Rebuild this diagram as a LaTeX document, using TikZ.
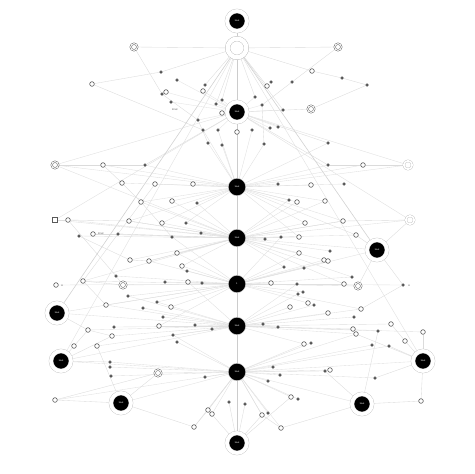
\documentclass[tikz,border=0pt]{standalone}
\pgfdeclarelayer{paper}
\pgfdeclarelayer{bg}
\pgfsetlayers{paper,bg,main}
\begin{document}
\begin{tikzpicture}[x=0.03cm,y=-0.03cm,
  hubr/.style={circle,fill=black,draw=gray!45,line width=0.35pt,double=white,double distance=0.11cm,minimum size=0.6cm,inner sep=0pt,text=white,font=\fontsize{2.5}{3}\selectfont},
  hub/.style={circle,fill=black,draw=gray!30,line width=0.3pt,minimum size=0.52cm,inner sep=0pt,text=white,font=\fontsize{2.5}{3}\selectfont},
  wring/.style={circle,fill=white,draw=gray!55,line width=0.35pt,double=white,double distance=0.13cm,minimum size=0.56cm,inner sep=0pt},
  wsm/.style={circle,fill=white,draw=gray!55,line width=0.3pt,double=white,double distance=0.05cm,minimum size=0.25cm,inner sep=0pt},
  sc/.style={circle,fill=white,draw=black!65,line width=0.5pt,minimum size=0.14cm,inner sep=0pt},
  sr/.style={circle,fill=white,draw=black!65,line width=0.4pt,double=white,double distance=0.03cm,minimum size=0.2cm,inner sep=0pt},
  sd/.style={circle,fill=black!65,draw=black!70,line width=0.2pt,minimum size=0.09cm,inner sep=0pt},
  sq/.style={rectangle,fill=white,draw=black!65,line width=0.45pt,minimum size=0.16cm,inner sep=0pt},
  lbl/.style={inner sep=0pt,text=black!65,font=\fontsize{3}{3.5}\selectfont},
  ln/.style={draw=gray!28,line width=0.3pt},
  lnb/.style={draw=gray!40,line width=0.5pt}]
\begin{pgfonlayer}{paper}
\fill[white] (0,0) rectangle (474,474);
\end{pgfonlayer}
\useasboundingbox (0,0) rectangle (474,474);
% hubs
\node[hubr] (h1) at (237,21) {ms};
\node[wring] (w1) at (237,48) {};
\node[hubr] (h2) at (237,112) {ms};
\node[hub] (h3) at (237,187) {ms};
\node[hub] (h4) at (237,238) {ms};
\node[hub] (h5) at (237,284) {i};
\node[hub] (h6) at (237,326) {ms};
\node[hub] (h7) at (237,372) {ms};
\node[hubr] (h8) at (237,443) {ms};
\node[hubr] (hr1) at (377,250) {ms};
\node[hubr] (hl1) at (57,313) {ms};
\node[hubr] (hl2) at (61,361) {ms};
\node[hubr] (hl3) at (121,403) {ms};
\node[hubr] (hr2) at (423,361) {ms};
\node[hubr] (hr3) at (362,404) {ms};
\node[wsm] (w2) at (408,165) {};
\node[wsm] (w3) at (410,220) {};
% small nodes
\foreach \n/\x/\y in {t1/134/47,t2/338/47,t27/311/109,l1/55/165,l16/123/285,r23/358/286,l52/158/373}
  \node[sr] (\n) at (\x,\y) {};
\foreach \n/\x/\y in {t3/92/84,t6/166/92,t10/203/91,t16/222/113,t19/312/71,t24/267/86,t35/237/132,
  l2/103/165,l4/122/183,l5/155/184,l6/141/202,l7/68/220,l9/129/221,l10/93/234,l13/130/260,l14/149/261,
  l15/83/281,l17/56/285,l19/193/184,l20/172/201,l22/162/223,l26/177/253,l27/182/266,l30/188/282,
  l33/106/305,l35/171/307,l38/159/326,l42/112/336,l43/97/346,l47/88/330,l48/74/346,l51/55/400,
  r2/311/185,r5/297/202,r6/325/201,r7/305/223,r8/343/221,r10/299/237,r11/356/235,r13/299/253,
  r14/324/260,r15/328/261,r20/271/283,r22/344/284,r26/308/303,r28/290/307,r29/361/309,r30/328/313,
  r34/353/329,r35/356/334,r37/304/344,r41/363/165,r43/423/332,r44/391/324,r52/405/341,r48/421/401,r55/330/370,
  b1/208/410,b2/212/414,b3/194/427,b5/262/415,b6/281/428,b10/291/397}
  \node[sc] (\n) at (\x,\y) {};
\foreach \n/\x/\y in {t4/161/72,t5/177/80,t7/162/94,t8/171/102,t9/205/85,t12/198/120,t13/222/100,
  t14/203/130,t15/218/130,t17/208/143,t18/222/145,t20/342/78,t21/367/85,t22/292/82,t23/271/82,
  t25/255/97,t26/262/105,t28/283/110,t29/252/130,t30/270/128,t31/278/127,t32/264/144,t33/328/143,
  t34/216/104,l3/145/165,l11/118/234,l12/79/236,l18/116/276,l21/197/203,l23/186/223,l24/172/237,
  l25/201/233,l28/187/271,l29/165/282,l31/202/283,l32/128/296,l34/143/308,l36/157/302,l37/163/317,
  l39/114/327,l40/195/325,l41/212/329,l44/173/335,l45/177/342,l46/110/367,l49/110/362,l50/111/376,
  r1/278/184,r3/344/184,r4/289/200,r9/281/237,r12/265/239,r16/330/251,r17/284/267,r18/304/268,
  r19/352/277,r21/297/284,r24/303/292,r25/298/294,r27/314/305,r31/354/317,r32/263/324,r33/278/327,
  r36/378/331,r38/311/343,r39/273/367,r40/328/165,r42/403/285,r45/372/345,r46/325/371,r47/375/378,
  r51/389/346,b4/268/413,b7/268/381,b8/280/375,b9/205/377,b11/298/399,b12/229/402,b13/245/404}
  \node[sd] (\n) at (\x,\y) {};
\node[sq] (l8) at (55,220) {};
\node[lbl] (m1) at (175,110) {ms};
\node[lbl] (m2) at (101,234) {ms};
\node[lbl] (m3) at (409,286) {o};
\node[lbl] (m4) at (62,286) {o};
\begin{pgfonlayer}{bg}
% spine
\foreach \a/\b in {h1/w1,w1/h2,h2/h3,h3/h4,h4/h5,h5/h6,h6/h7,h7/h8}
  \draw[lnb] (\a) -- (\b);
% structural lines
\foreach \a/\b in {t1/w1,t2/w1,t3/t4,t4/w1,w1/t19,t19/t20,t20/t21,t1/t7,t7/t12,t12/t17,t2/t22,t22/t26,t26/t32,
  l1/l2,l2/l3,l3/h2,h2/r40,r40/r41,r41/w2,l2/l4,l4/l6,l6/l24,l8/l7,l7/l9,l9/h4,h4/r8,r8/w3,
  l7/l18,l18/l16,l15/l16,l10/l11,l11/h4,w3/hr1,hr1/r42,hr1/r11,hr1/r23,l5/l15,t3/t14,w1/t9,w1/t25,
  hl1/l47,l47/l42,hl2/l48,l48/l47,hl2/l49,hl2/l42,hl3/l51,l51/l52,hl3/l52,hl3/l43,
  r44/r52,r52/hr2,r51/hr2,r35/hr2,r43/hr2,hr2/r48,hr3/r48,hr3/r36,hr3/r46,hr2/r47,
  h7/b1,b1/h8,b1/b3,h7/b5,b5/h8,b5/b6,b3/hl3,b6/hr3,h8/b10,h8/b12,h8/b13,
  w1/t13,w1/t34,w1/t24,w1/t28,h2/t27,h2/t33,t27/t21,l12/l13,l13/l14,l14/h4,l33/l15,r29/r42}
  \draw[ln] (\a) -- (\b);
\foreach \a/\b in {w1/hr1,w1/hl1}
  \draw[lnb,draw=gray!35] (\a) -- (\b);
\foreach \a/\b in {w1/hl2,w1/hr2,h2/l1,h2/w2,h2/l8,h2/w3}
  \draw[ln,draw=gray!25] (\a) -- (\b);
% spokes
\foreach \b in {t5,t8,t10,t16,t13,t34,t25,t26,t28,t30,t31,t12,t15,t6}
  \draw[ln,draw=gray!22] (h2) -- (\b);
\foreach \b in {l19,l20,l21,l5,l4,l2,r1,r2,r3,r4,r5,r6,r40,t17,t18,l6,l22,r7,r8,l9,r11,t15,t32,t29,l1,w2,t14,r41,l3,t33,r10,l23}
  \draw[ln,draw=gray!24] (h3) -- (\b);
\foreach \b in {l22,l23,l24,l25,l10,l11,l9,l26,l13,l14,r9,r10,r12,r13,r14,r11,r8,r16,l7,hr1,l12,r7,l6,r6,l20,r5,l8,w3,l1,l15,r22,r19,l27,r17,r4,l21}
  \draw[ln,draw=gray!24] (h4) -- (\b);
\foreach \b in {l27,l28,l29,l30,l31,l16,l15,l33,l35,r17,r18,r20,r21,r22,r23,r19,r24,r26,hr1,l18,l36,l14,l26,r14,r15,l17,hl1,r42,l32,r29,r13,l24,r9,l38}
  \draw[ln,draw=gray!24] (h5) -- (\b);
\foreach \b in {l37,l38,l40,l41,l42,l43,l47,l34,l32,r28,r30,r31,r32,r33,r29,r34,r36,r27,hl1,hl2,r25,r44,r43,l39,l33,r35,l36,l44,r37,r21,l30}
  \draw[ln,draw=gray!24] (h6) -- (\b);
\foreach \b in {l44,l45,l46,l49,l52,hl2,r37,r38,r39,r35,r45,r46,b7,b8,b9,b1,b5,hl3,hr3,hr2,l50,l51,r47,r55,r51,b3,b6,b10,b11,b4,b2}
  \draw[ln,draw=gray!24] (h7) -- (\b);
\end{pgfonlayer}
\end{tikzpicture}
\end{document}
